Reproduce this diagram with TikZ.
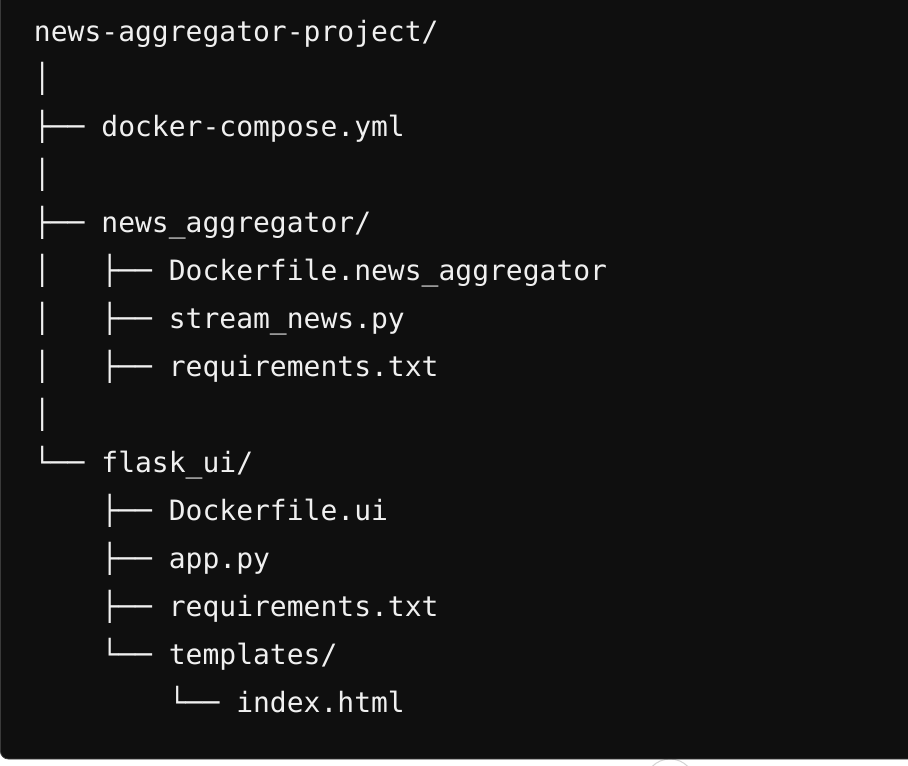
\documentclass[tikz,border=0pt]{standalone}
\usepackage{fontspec}
\newfontfamily\codefont{DejaVu Sans Mono}
\definecolor{bg}{HTML}{0F0F0F}
\definecolor{fg}{HTML}{F0F0F0}
\definecolor{edge}{HTML}{3A3A3A}
\begin{document}
\begin{tikzpicture}[x=1pt,y=-1pt,
  row/.style={anchor=base west, inner sep=0pt, outer sep=0pt, text=fg,
    font=\codefont\fontsize{28}{28}\selectfont},
  panel/.style={fill=bg, draw=edge, line width=0.8pt}]
\useasboundingbox (0,0) rectangle (908,766);
\fill[white] (0,0) rectangle (908,766);
\draw[gray!35, fill=white, line width=1pt] (670,784) circle (25);
\path[panel, rounded corners=8pt] (0.4,-20) rectangle (940,759);
\def\dy{47.93}
\def\x0{34}
\node[row] (l0)  at (34,41+0*\dy)  {news-aggregator-project/};
\node[row] (l1)  at (34,41+1*\dy)  {│};
\node[row] (l2)  at (34,41+2*\dy)  {├──~docker-compose.yml};
\node[row] (l3)  at (34,41+3*\dy)  {│};
\node[row] (l4)  at (34,41+4*\dy)  {├──~news\_aggregator/};
\node[row] (l5)  at (34,41+5*\dy)  {│~~~├──~Dockerfile.news\_aggregator};
\node[row] (l6)  at (34,41+6*\dy)  {│~~~├──~stream\_news.py};
\node[row] (l7)  at (34,41+7*\dy)  {│~~~├──~requirements.txt};
\node[row] (l8)  at (34,41+8*\dy)  {│};
\node[row] (l9)  at (34,41+9*\dy)  {└──~flask\_ui/};
\node[row] (l10) at (34,41+10*\dy) {~~~~├──~Dockerfile.ui};
\node[row] (l11) at (34,41+11*\dy) {~~~~├──~app.py};
\node[row] (l12) at (34,41+12*\dy) {~~~~├──~requirements.txt};
\node[row] (l13) at (34,41+13*\dy) {~~~~└──~templates/};
\node[row] (l14) at (34,41+14*\dy) {~~~~~~~~└──~index.html};
\end{tikzpicture}
\end{document}
